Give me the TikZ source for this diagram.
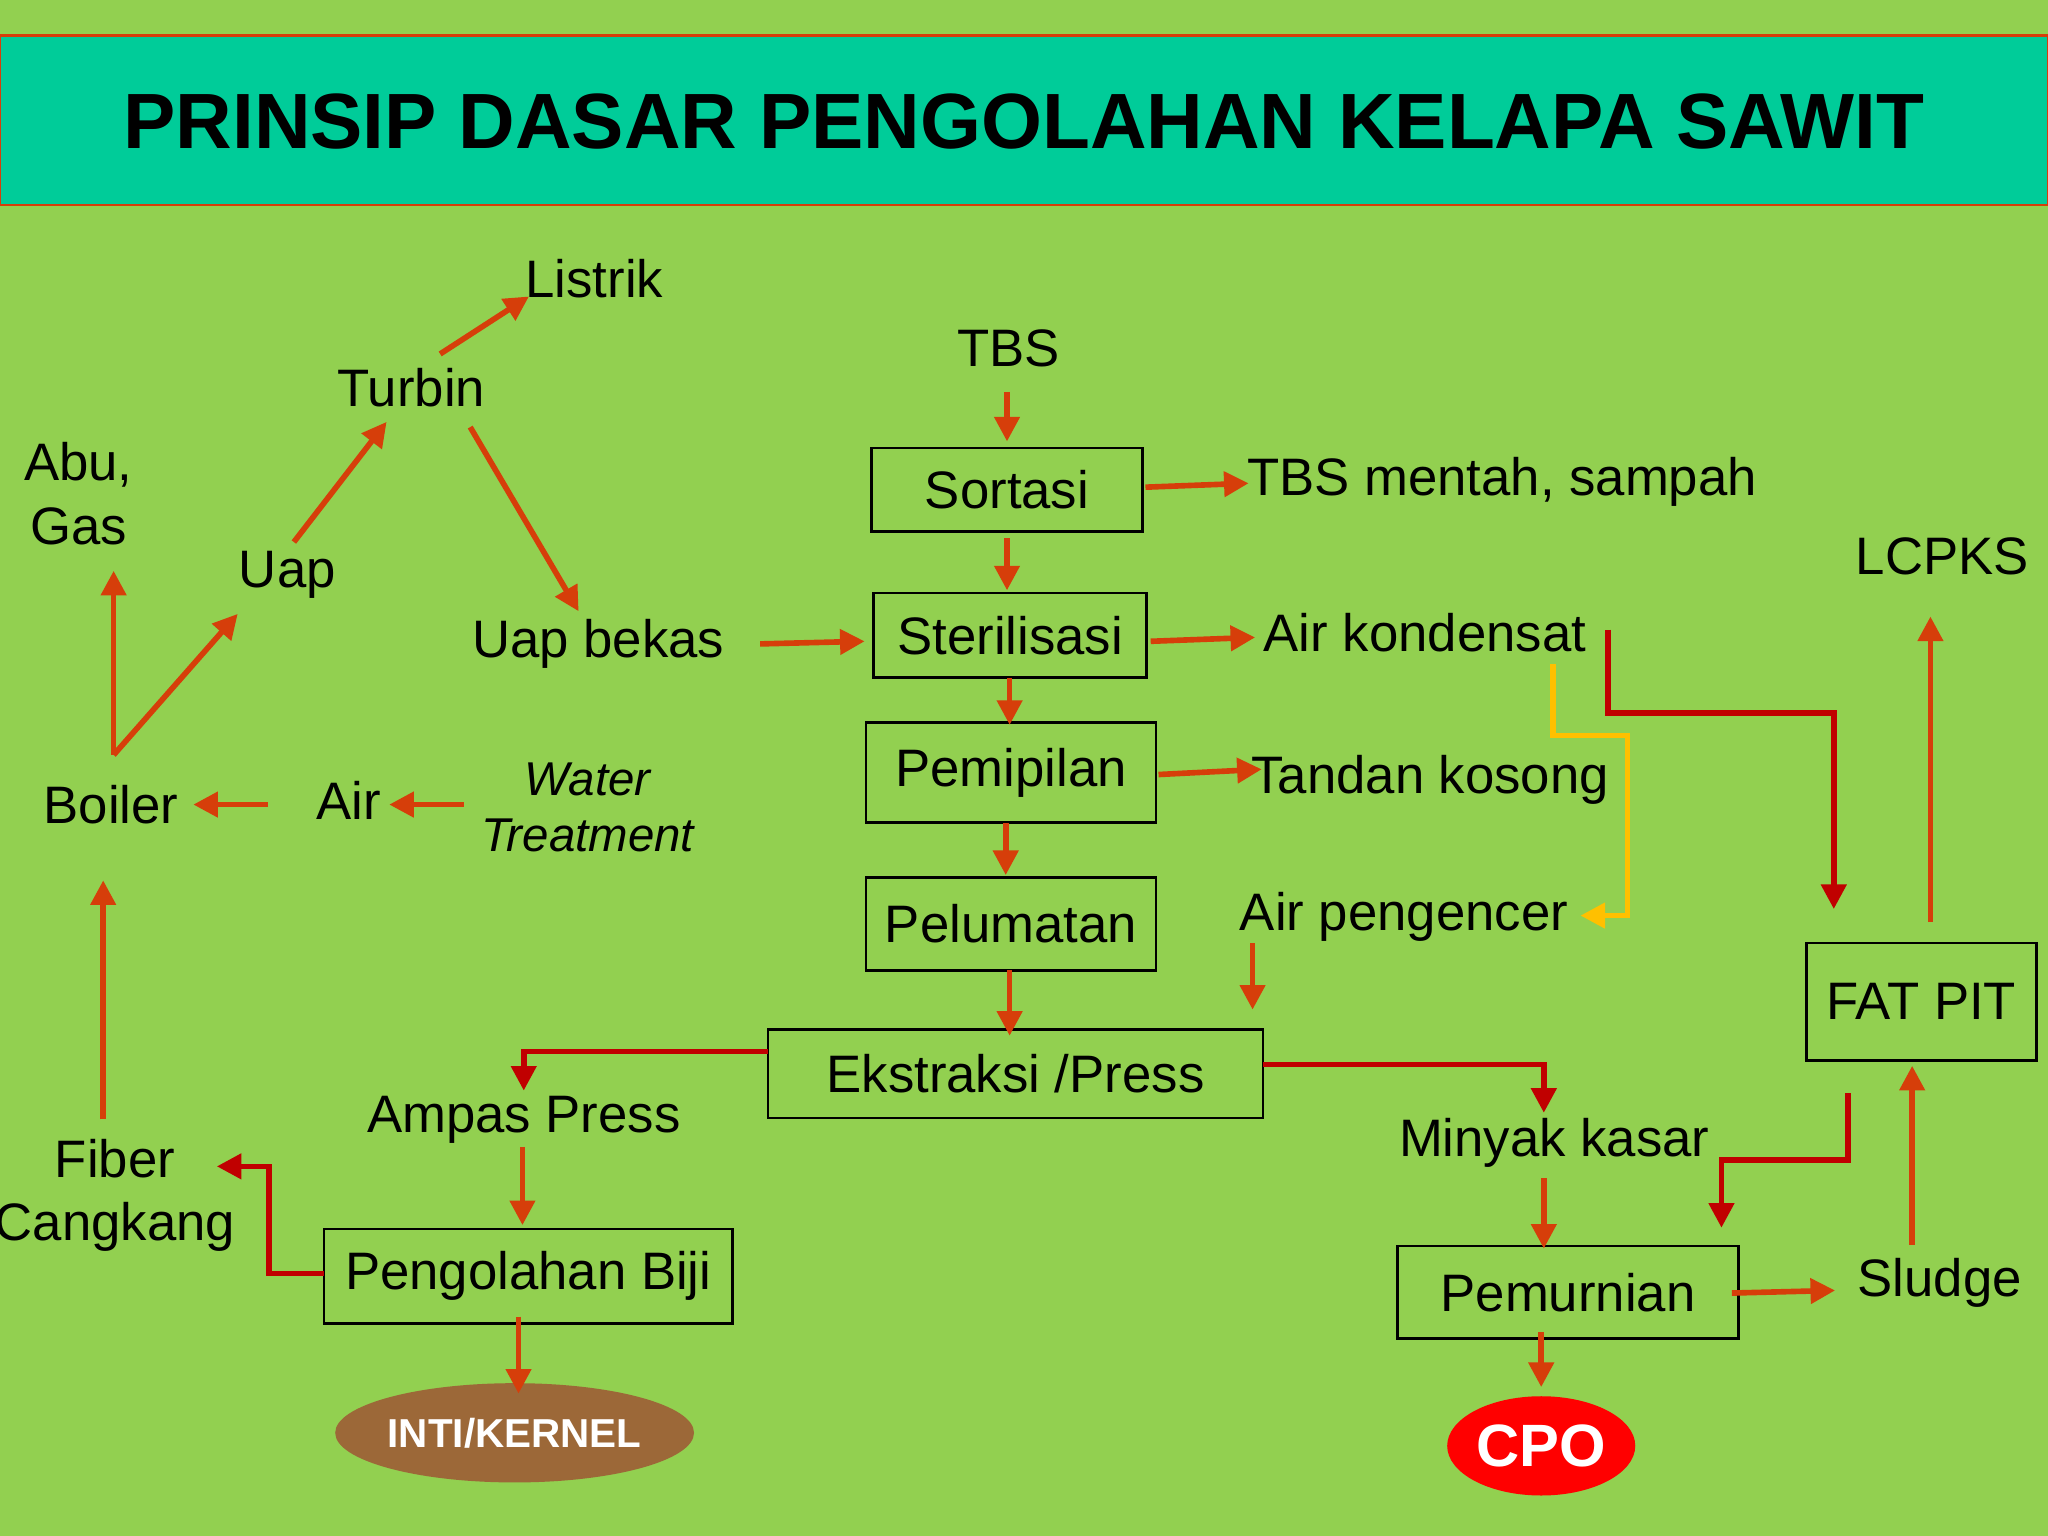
\documentclass[tikz,border=0pt]{standalone}
\usepackage{fontspec}
\setmainfont{Liberation Sans}
\usetikzlibrary{arrows.meta,shapes.geometric}
\definecolor{bg}{RGB}{146,208,80}
\definecolor{band}{RGB}{0,204,153}
\definecolor{arr}{RGB}{214,62,10}
\definecolor{dred}{RGB}{192,0,0}
\definecolor{yel}{RGB}{255,192,0}
\definecolor{brn}{RGB}{156,104,56}
\tikzset{
 lbl/.style={font=\fontsize{15}{18}\selectfont, align=center, inner sep=0},
 box/.style={draw=black, line width=0.8pt, font=\fontsize{15}{18}\selectfont, inner sep=0},
 sz/.style 2 args={minimum width={#1*0.01306cm}, minimum height={#2*0.01306cm}},
 ar/.style={draw=arr, line width=1.6pt, -{Triangle[length=7pt,width=7pt]}},
 dr/.style={draw=dred, line width=1.6pt, -{Triangle[length=7pt,width=7pt]}},
 yr/.style={draw=yel, line width=1.6pt, -{Triangle[length=7pt,width=7pt]}},
}
\begin{document}
\begin{tikzpicture}[x=0.01306cm,y=-0.01306cm]
\fill[bg] (0,0) rectangle (1568,1176);
\path[use as bounding box] (0,0) rectangle (1568,1176);
\draw[fill=band, draw=arr, line width=0.8pt] (0,27) rectangle (1568,157);
\node[font=\bfseries\fontsize{22.3}{26}\selectfont] (title) at (784,93) {PRINSIP DASAR PENGOLAHAN KELAPA SAWIT};
% labels
\node[lbl] (listrik) at (455,213) {Listrik};
\node[lbl] (turbin) at (315,297) {Turbin};
\node[lbl] (abu) at (60,378) {Abu,\\Gas};
\node[lbl] (uap) at (220,440) {Uap};
\node[lbl] (uapb) at (458,493) {Uap bekas};
\node[lbl] (boiler) at (85,616) {Boiler};
\node[lbl] (air) at (267,613) {Air};
\node[lbl, font=\itshape\fontsize{13.5}{16}\selectfont] (wt) at (450,618) {Water\\Treatment};
\node[lbl] (fiber) at (88,915) {Fiber\\Cangkang};
\node[lbl] (tbs) at (772,267) {TBS};
\node[lbl] (mentah) at (1150,369) {TBS mentah, sampah};
\node[lbl] (kond) at (1091,484) {Air kondensat};
\node[lbl] (tandan) at (1095,597) {Tandan kosong};
\node[lbl] (peng) at (1075,702) {Air pengencer};
\node[lbl] (lcpks) at (1487,426) {LCPKS};
\node[lbl] (ampas) at (401,857) {Ampas Press};
\node[lbl] (minyak) at (1190,875) {Minyak kasar};
\node[lbl] (sludge) at (1485,982) {Sludge};
% boxes
\node[box, sz={208}{64}] (sort) at (771,375) {Sortasi};
\node[box, sz={209}{65}] (ster) at (773.5,486.5) {Sterilisasi};
\node[box, sz={222}{77}] (pemi) at (774,591.5) {Pemipilan};
\node[box, sz={222}{71}] (pelu) at (774,707.5) {Pelumatan};
\node[box, sz={379}{68}] (eks) at (777.5,822) {Ekstraksi /Press};
\node[box, sz={313}{72}] (biji) at (404.5,977) {Pengolahan Biji};
\node[box, sz={261}{71}] (murni) at (1200.5,989.5) {Pemurnian};
\node[box, sz={176}{90}] (fat) at (1471,767) {FAT PIT};
\node[ellipse, fill=brn, sz={220}{76}, inner sep=0, text=white, font=\bfseries\fontsize{11.5}{14}\selectfont] (inti) at (394,1097) {INTI/KERNEL};
\node[ellipse, fill=red, sz={144}{76}, inner sep=0, text=white, font=\bfseries\fontsize{17}{20}\selectfont] (cpo) at (1180,1107) {CPO};
% arrows
\coordinate (a1) at (337,271); \coordinate (a2) at (405,227);
\draw[ar] (a1) -- (a2);
\coordinate (b1) at (225,415); \coordinate (b2) at (296,323);
\draw[ar] (b1) -- (b2);
\coordinate (c1) at (360,327); \coordinate (c2) at (443,468);
\draw[ar] (c1) -- (c2);
\coordinate (v) at (87,578); \coordinate (va) at (87,437); \coordinate (vb) at (182,470);
\draw[ar] (v) -- (va); \draw[ar] (v) -- (vb);
\coordinate (d1) at (582,493); \coordinate (d2) at (662,491); \draw[ar] (d1) -- (d2);
\coordinate (e1) at (205,616); \coordinate (e2) at (148,616); \draw[ar] (e1) -- (e2);
\coordinate (f1) at (355,616); \coordinate (f2) at (298,616); \draw[ar] (f1) -- (f2);
\coordinate (g1) at (79,857); \coordinate (g2) at (79,674); \draw[ar] (g1) -- (g2);
\coordinate (h1) at (771,300); \coordinate (h2) at (771,338); \draw[ar] (h1) -- (h2);
\coordinate (i1) at (771,412); \coordinate (i2) at (771,452); \draw[ar] (i1) -- (i2);
\coordinate (j1) at (773,519); \coordinate (j2) at (773,555); \draw[ar] (j1) -- (j2);
\coordinate (k1) at (770,630); \coordinate (k2) at (770,670); \draw[ar] (k1) -- (k2);
\coordinate (l1) at (773,743); \coordinate (l2) at (773,793); \draw[ar] (l1) -- (l2);
\coordinate (m1) at (877,373); \coordinate (m2) at (956,370); \draw[ar] (m1) -- (m2);
\coordinate (n1) at (881,491); \coordinate (n2) at (961,488); \draw[ar] (n1) -- (n2);
\coordinate (o1) at (887,593); \coordinate (o2) at (966,589); \draw[ar] (o1) -- (o2);
\coordinate (p1) at (959,722); \coordinate (p2) at (959,773); \draw[ar] (p1) -- (p2);
\coordinate (q1) at (588,805); \coordinate (q2) at (401,835); \draw[dr] (q1) -| (q2);
\coordinate (r1) at (967,815); \coordinate (r2) at (1182,852); \draw[dr] (r1) -| (r2);
\coordinate (s1) at (400,878); \coordinate (s2) at (400,938); \draw[ar] (s1) -- (s2);
\coordinate (t1) at (248,975); \coordinate (t2) at (206,975); \coordinate (t3) at (206,893); \coordinate (t4) at (166,893);
\draw[dr] (t1) -- (t2) -- (t3) -- (t4);
\coordinate (u1) at (397,1008); \coordinate (u2) at (397,1067); \draw[ar] (u1) -- (u2);
\coordinate (w1) at (1182,902); \coordinate (w2) at (1182,956); \draw[ar] (w1) -- (w2);
\coordinate (x1) at (1180,1020); \coordinate (x2) at (1180,1062); \draw[ar] (x1) -- (x2);
\coordinate (y1) at (1326,990); \coordinate (y2) at (1405,988); \draw[ar] (y1) -- (y2);
\coordinate (z1) at (1464,953); \coordinate (z2) at (1464,816); \draw[ar] (z1) -- (z2);
\coordinate (aa1) at (1478,706); \coordinate (aa2) at (1478,472); \draw[ar] (aa1) -- (aa2);
\coordinate (bb1) at (1231,482); \coordinate (bb2) at (1231,546); \coordinate (bb3) at (1404,696);
\draw[dr] (bb1) -- (bb2) -| (bb3);
\coordinate (cc1) at (1415,837); \coordinate (cc2) at (1415,888); \coordinate (cc3) at (1318,940);
\draw[dr] (cc1) -- (cc2) -| (cc3);
\coordinate (dd1) at (1189,508); \coordinate (dd2) at (1189,563); \coordinate (dd3) at (1246,563); \coordinate (dd4) at (1246,701); \coordinate (dd5) at (1210,701);
\draw[yr] (dd1) -- (dd2) -- (dd3) -- (dd4) -- (dd5);
\end{tikzpicture}
\end{document}
